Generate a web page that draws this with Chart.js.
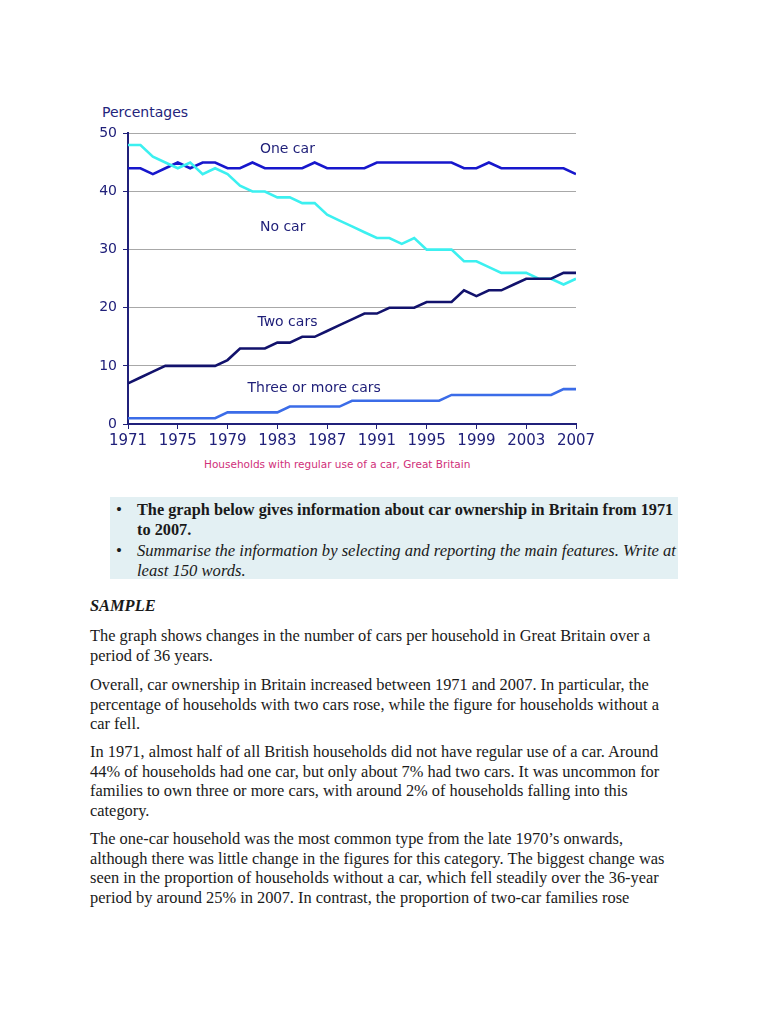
<!DOCTYPE html>
<html><head><meta charset="utf-8">
<script src="https://cdn.jsdelivr.net/npm/chart.js@4.4.0/dist/chart.umd.min.js"></script>
<style>
html,body{margin:0;padding:0;background:#fff;}
body{width:768px;height:1024px;position:relative;overflow:hidden;font-family:"Liberation Serif","Times New Roman",serif;color:#1a1a1a;}
#wrap{position:absolute;left:90px;top:119px;width:520px;height:335px;}
.ylab{position:absolute;left:102px;top:104px;font:14px "DejaVu Sans",Verdana,sans-serif;color:#24247c;white-space:nowrap;}
.src{position:absolute;left:204px;top:458px;font:10.5px "DejaVu Sans",Verdana,sans-serif;color:#d0307a;white-space:nowrap;}
.box{position:absolute;left:110px;top:497px;width:568px;height:82px;background:#e3f0f3;}
.bl{position:absolute;left:137px;font-size:16.3px;line-height:19.5px;white-space:nowrap;}
.bu{position:absolute;left:116px;font-size:17px;line-height:19.5px;}
.p{position:absolute;left:90px;font-size:16.4px;line-height:19.7px;white-space:nowrap;}
</style></head>
<body>
<div class="ylab">Percentages</div>
<div id="wrap"><canvas id="c" width="520" height="335"></canvas></div>
<div class="src">Households with regular use of a car, Great Britain</div>

<div class="box"></div>
<div class="bu" style="top:500px">•</div>
<div class="bl" style="top:500px;font-weight:bold">The graph below gives information about car ownership in Britain from 1971<br>to 2007.</div>
<div class="bu" style="top:541px">•</div>
<div class="bl" style="top:541px;font-style:italic;font-size:16.6px">Summarise the information by selecting and reporting the main features. Write at<br>least 150 words.</div>

<div class="p" style="top:596px;font-weight:bold;font-style:italic">SAMPLE</div>
<div class="p" style="top:626px">The graph shows changes in the number of cars per household in Great Britain over a<br>period of 36 years.</div>
<div class="p" style="top:675px">Overall, car ownership in Britain increased between 1971 and 2007. In particular, the<br>percentage of households with two cars rose, while the figure for households without a<br>car fell.</div>
<div class="p" style="top:742px">In 1971, almost half of all British households did not have regular use of a car. Around<br>44% of households had one car, but only about 7% had two cars. It was uncommon for<br>families to own three or more cars, with around 2% of households falling into this<br>category.</div>
<div class="p" style="top:829px">The one-car household was the most common type from the late 1970’s onwards,<br>although there was little change in the figures for this category. The biggest change was<br>seen in the proportion of households without a car, which fell steadily over the 36-year<br>period by around 25% in 2007. In contrast, the proportion of two-car families rose</div>

<script>
const years = [1971,1972,1973,1974,1975,1976,1977,1978,1979,1980,1981,1982,1983,1984,1985,1986,1987,1988,1989,1990,1991,1992,1993,1994,1995,1996,1997,1998,1999,2000,2001,2002,2003,2004,2005,2006,2007];
const noCar     = [48,48,46,45,44,45,43,44,43,41,40,40,39,39,38,38,36,35,34,33,32,32,31,32,30,30,30,28,28,27,26,26,26,25,25,24,25];
const oneCar    = [44,44,43,44,45,44,45,45,44,44,45,44,44,44,44,45,44,44,44,44,45,45,45,45,45,45,45,44,44,45,44,44,44,44,44,44,43];
const twoCars   = [7,8,9,10,10,10,10,10,11,13,13,13,14,14,15,15,16,17,18,19,19,20,20,20,21,21,21,23,22,23,23,24,25,25,25,26,26];
const threePlus = [1,1,1,1,1,1,1,1,2,2,2,2,2,3,3,3,3,3,4,4,4,4,4,4,4,4,5,5,5,5,5,5,5,5,5,6,6];
const xTicks = [1971,1975,1979,1983,1987,1991,1995,1999,2003,2007];
const yTicks = [0,10,20,30,40,50];
const seriesNames = ['One car','No car','Two cars','Three or more cars'];
const labelYears  = [1981.6,1981.6,1981.4,1980.6];
const labelValues = [47.3,33.8,17.5,6.2];

const NAVY = '#20207a';
const pts = arr => years.map((yr,i)=>({x:yr,y:arr[i]}));

const labelPlugin = {
  id:'lineLabels',
  afterDatasetsDraw(chart){
    const {ctx, scales:{x,y}} = chart;
    ctx.save();
    ctx.font = '14px "DejaVu Sans", Verdana, sans-serif';
    ctx.fillStyle = '#1e1e78';
    ctx.textBaseline = 'middle';
    ctx.textAlign = 'left';
    seriesNames.forEach((n,i)=>ctx.fillText(n, x.getPixelForValue(labelYears[i]), y.getPixelForValue(labelValues[i])));
    ctx.restore();
  }
};

const ds = (label, data, color) => ({label, data:pts(data), borderColor:color, backgroundColor:color, borderWidth:2.6, pointRadius:0, tension:0, fill:false});

new Chart(document.getElementById('c'), {
  type:'line',
  data:{datasets:[
    ds('Three or more cars', threePlus, '#3b6ce8'),
    ds('Two cars', twoCars, '#12126c'),
    ds('No car', noCar, '#3cf0f0'),
    ds('One car', oneCar, '#1717cc')
  ]},
  options:{
    responsive:false, animation:false, devicePixelRatio:1,
    layout:{padding:{left:0,right:34,top:8,bottom:0}},
    plugins:{legend:{display:false}, tooltip:{enabled:false}},
    scales:{
      x:{type:'linear', min:1971, max:2007,
        afterBuildTicks(s){ s.ticks = xTicks.map(v=>({value:v})); },
        afterFit(s){ s.height = 30; },
        ticks:{callback:v=>String(v), font:{family:'DejaVu Sans', size:15}, color:NAVY, maxRotation:0, autoSkip:false, padding:3},
        grid:{drawOnChartArea:false, drawTicks:true, tickLength:5, tickColor:NAVY},
        border:{color:NAVY, width:2}
      },
      y:{min:0, max:50,
        afterBuildTicks(s){ s.ticks = yTicks.map(v=>({value:v})); },
        afterFit(s){ s.width = 38; },
        ticks:{font:{family:'DejaVu Sans', size:14}, color:NAVY, padding:6},
        grid:{color:'#a8a8a8', lineWidth:1, tickColor:NAVY, tickLength:5},
        border:{color:NAVY, width:2}
      }
    }
  },
  plugins:[labelPlugin]
});
</script>
</body></html>
